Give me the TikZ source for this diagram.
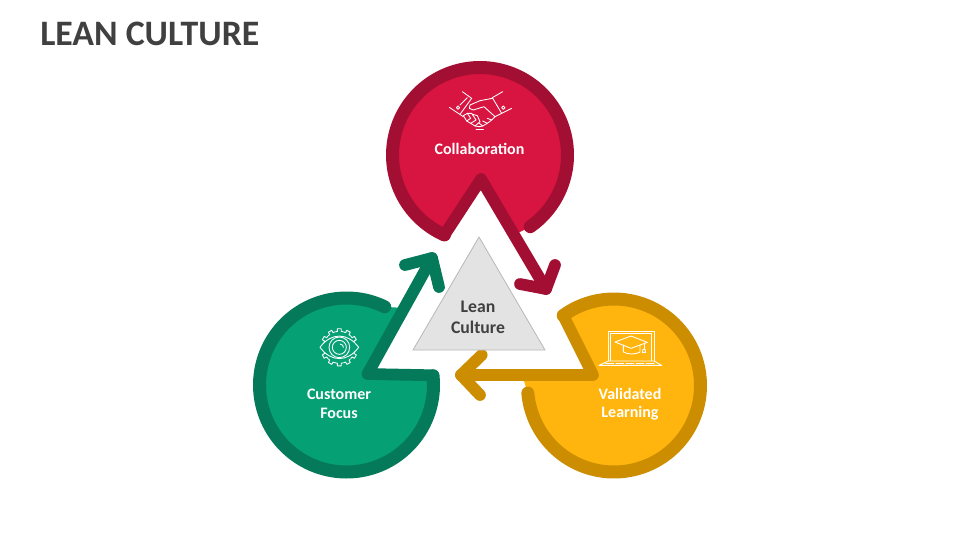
\documentclass[tikz,border=0pt]{standalone}
\usepackage{fontspec}
\setmainfont{Carlito}
\definecolor{redfill}{HTML}{D81440}
\definecolor{redline}{HTML}{A30E33}
\definecolor{greenfill}{HTML}{06A075}
\definecolor{greenline}{HTML}{047A5A}
\definecolor{yellowfill}{HTML}{FFB50D}
\definecolor{yellowline}{HTML}{CC8E00}
\definecolor{titlegrey}{HTML}{404040}
\tikzset{
  rim/.style={line width=9.75pt,line cap=round,line join=round},
  shaft/.style={line width=8.8pt,line cap=round,line join=round},
  lbl/.style={text=white,font=\bfseries\fontsize{12pt}{14.2pt}\selectfont,align=center,inner sep=0pt},
  corelbl/.style={text=titlegrey,font=\bfseries\fontsize{13.3pt}{15pt}\selectfont,align=center,inner sep=0pt},
  icon/.style={draw=white,line width=0.65pt,line cap=round,line join=round},
  zoomed/.style={x=0.25pt,y=-0.25pt}
}
\begin{document}
\begin{tikzpicture}[x=0.75pt,y=-0.75pt]
\useasboundingbox (0,0) rectangle (960,540);
\fill[white] (0,0) rectangle (960,540);
\node[anchor=west,inner sep=0pt,text=titlegrey,font=\bfseries\fontsize{26.85pt}{30pt}\selectfont] (title) at (40,34) {LEAN CULTURE};

% named points
\coordinate (redapex) at (481,179);
\coordinate (redleft) at (444.4,235);
\coordinate (redtip) at (546,289);
\coordinate (redb1) at (520,284);
\coordinate (redb2) at (555,265);
\coordinate (greenapex) at (367.5,374);
\coordinate (greenright) at (433.4,375.3);
\coordinate (greentip) at (432,258);
\coordinate (greenb1) at (405,265);
\coordinate (greenb2) at (439,287);
\coordinate (yellowapex) at (593,375);
\coordinate (yellowstart) at (563.2,315.4);
\coordinate (yellowtip) at (461,375);
\coordinate (yellowb1) at (481.7,355);
\coordinate (yellowb2) at (480,395);

% red
\fill[redfill] (redapex) -- (redleft) -- plot[domain=114:415,samples=120] ({480+87.5*cos(\x)},{155+87.5*sin(\x)}) -- (518,233) -- cycle;
\draw[rim,redline] plot[domain=114:415,samples=120] ({480+87.5*cos(\x)},{155+87.5*sin(\x)});
\draw[shaft,redline] (redleft) -- (redapex) -- (redtip);
\draw[shaft,redline] (redb1) -- (redtip) -- (redb2);

% green
\fill[greenfill] (greenapex) -- (404,308) -- plot[domain=296:-6,samples=120] ({346.5+87*cos(\x)},{385+87*sin(\x)}) -- cycle;
\draw[rim,greenline] plot[domain=296:-6,samples=120] ({346.5+87*cos(\x)},{385+87*sin(\x)});
\draw[shaft,greenline] (greenright) -- (greenapex) -- (greentip);
\draw[shaft,greenline] (greenb1) -- (greentip) -- (greenb2);

% yellow
\fill[yellowfill] (yellowapex) -- (yellowstart) -- plot[domain=234:535,samples=120] ({614+86.5*cos(\x)},{385.5+86.5*sin(\x)}) -- (522,375) -- cycle;
\draw[rim,yellowline] plot[domain=234:535,samples=120] ({614+86.5*cos(\x)},{385.5+86.5*sin(\x)});
\draw[shaft,yellowline] (yellowstart) -- (yellowapex) -- (yellowtip);
\draw[shaft,yellowline] (yellowb1) -- (yellowtip) -- (yellowb2);

% centre triangle
\draw[fill=black!11,draw=black!28,line width=0.6pt,line join=round] (479,237) -- (545,350) -- (413,350) -- cycle;
\node[corelbl] (lean) at (478,307) {Lean};
\node[corelbl] (culture) at (478,327.5) {Culture};

% labels
\node[lbl] (collab) at (479.5,149) {Collaboration};
\node[lbl] (customer) at (339,394) {Customer};
\node[lbl] (focus) at (339,413.5) {Focus};
\node[lbl] (validated) at (630,394) {Validated};
\node[lbl] (learning) at (630,413.5) {Learning};

% handshake icon
\begin{scope}[shift={(380,55)},zoomed,icon]
\draw[icon] (247,110) -- (275,130) -- (240,178);
\draw[icon] (208,157) -- (250,185);
\draw[icon] (262,128) -- (240,150);
\draw[icon] (368,110) -- (337,128) -- (365,175);
\draw[icon] (395,160) -- (345,185);
\draw[icon] (234,158) circle[radius=5];
\draw[icon] (370,158) circle[radius=5];
\draw[icon] (337,130) -- (300,137) -- (270,150) -- (268,160) -- (280,165) -- (312,155) -- (345,185);
\draw[icon] (345,185) -- (335,195) -- (322,190);
\draw[icon] (335,195) -- (322,205) -- (308,198);
\draw[icon] (322,205) -- (308,213) -- (298,205);
\draw[icon] (250,182) -- (262,175) -- (272,190) -- (260,198) -- cycle;
\draw[icon] (262,175) -- (275,175) -- (288,195) -- (272,205) -- (260,198);
\draw[icon] (278,178) -- (292,182) -- (300,200) -- (285,213) -- (272,205);
\draw[icon] (285,213) -- (298,215) -- (308,213);
\draw[icon] (288,222) -- (310,222);
\end{scope}

% eye and gear icon
\begin{scope}[shift={(245,240)},zoomed,icon]
\begin{scope}[shift={(283,322)}]
\foreach \a in {-150,-120,-90,-60,-30,30,60,90,120,150}{
  \draw[icon] ({48*cos(\a-14)},{48*sin(\a-14)}) -- ({48*cos(\a-7)},{48*sin(\a-7)}) -- ({56*cos(\a-6)},{56*sin(\a-6)}) -- ({56*cos(\a+6)},{56*sin(\a+6)}) -- ({48*cos(\a+7)},{48*sin(\a+7)}) -- ({48*cos(\a+14)},{48*sin(\a+14)});
}
\fill[greenfill] (-58,0) .. controls (-25,-45) and (25,-45) .. (58,0) .. controls (25,45) and (-25,45) .. (-58,0) -- cycle;
\draw[icon] (-58,0) .. controls (-25,-45) and (25,-45) .. (58,0) .. controls (25,45) and (-25,45) .. (-58,0) -- cycle;
\draw[icon] (0,0) circle[radius=31];
\draw[icon] (0,0) circle[radius=21];
\draw[icon] (2,-10) .. controls (10,-10) and (12,-4) .. (12,0);
\end{scope}
\end{scope}

% laptop icon
\begin{scope}[shift={(445,280)},zoomed,icon]
\draw[icon] (490,243) -- (490,153) -- (627,153) -- (627,243);
\draw[icon] (497,243) -- (497,160) -- (619,160) -- (619,243);
\draw[icon] (490,243) -- (462,256) -- (650,256) -- (627,243) -- cycle;
\draw[icon,dash pattern=on 6pt off 1.6pt] (482,249) -- (632,249);
\draw[icon] (510,186) -- (558,168) -- (607,187) -- (558,205) -- cycle;
\draw[icon] (535,195) -- (535,216) .. controls (550,224) and (570,224) .. (585,216) -- (585,197);
\draw[icon] (597,191) -- (597,208);
\draw[icon] (592,217) -- (594,208) -- (600,208) -- (602,217) -- cycle;
\end{scope}
\end{tikzpicture}
\end{document}
